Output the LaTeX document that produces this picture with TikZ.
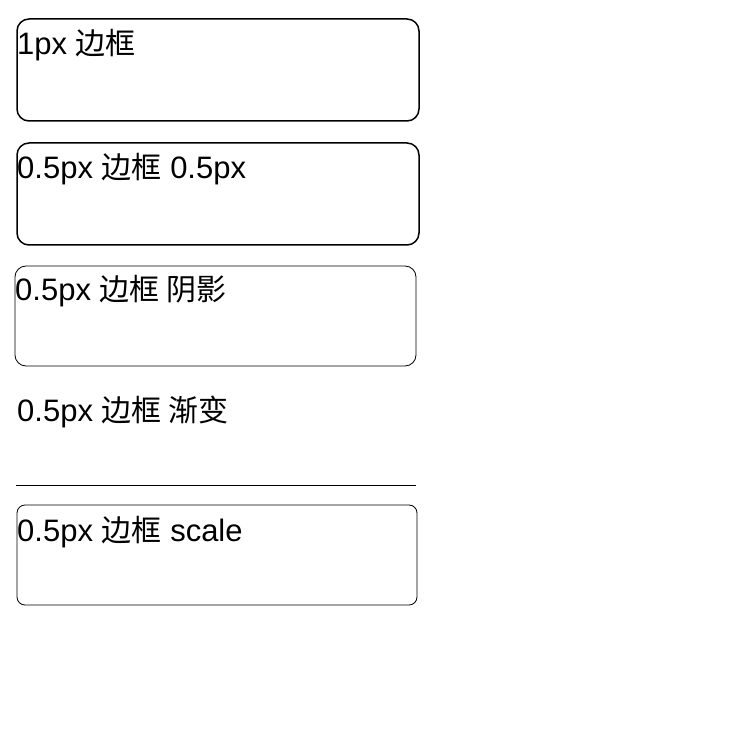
\documentclass[tikz,border=0pt]{standalone}
\usepackage{fontspec}
\setmainfont{Liberation Sans}
\newfontfamily\cjk{Noto Sans CJK SC}
\usetikzlibrary{positioning}

\tikzset{
  thick box/.style={draw, line width=1.5pt, rounded corners=12pt},
  thin box/.style={draw, line width=0.8pt, rounded corners=11pt},
  label text/.style={anchor=base west, inner sep=0pt, font=\fontsize{31}{36}\selectfont}
}
\newcommand{\zh}[1]{{\cjk\fontsize{30}{36}\selectfont #1}}

\begin{document}
\begin{tikzpicture}[x=1pt, y=-1pt]
\useasboundingbox (0,0) rectangle (750,730);

\draw [thick box] (17,19) rectangle (419,121);
\node [label text] (t1) at (17,55) {1px \zh{边框}};

\draw [thick box] (17,143) rectangle (419,245);
\node [label text] (t2) at (17,179) {0.5px \zh{边框} 0.5px};

\draw [thin box] (15,266) rectangle (416,366);
\node [label text] (t3) at (15,301) {0.5px \zh{边框 阴影}};

\node [label text] (t4) at (17,421) {0.5px \zh{边框 渐变}};
\draw [line width=0.8pt] (16,485) -- (416,485);

\draw [thin box, rounded corners=8pt] (17,505) rectangle (417,605);
\node [label text] (t5) at (17,541) {0.5px \zh{边框} scale};

\end{tikzpicture}
\end{document}
